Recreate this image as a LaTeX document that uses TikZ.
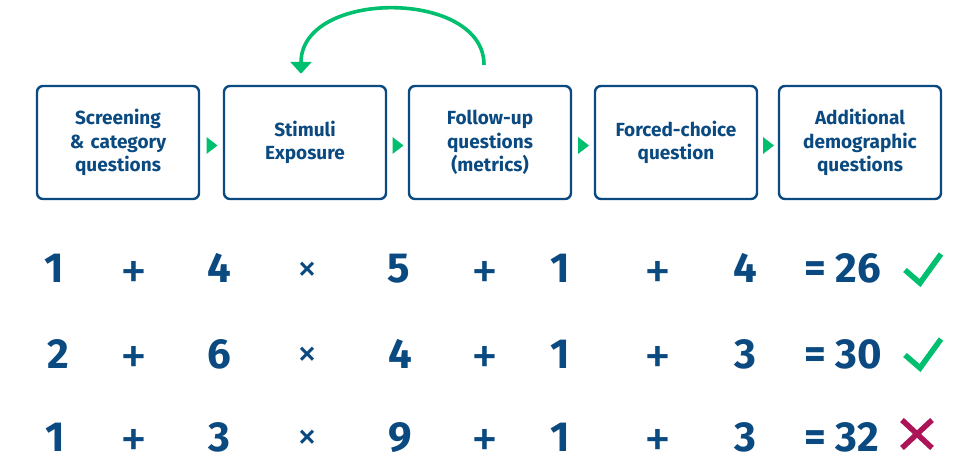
\documentclass[tikz,border=0pt]{standalone}
\usepackage{fontspec}
\setmainfont{Fira Sans}
\usepackage{tikz}
\usetikzlibrary{arrows.meta,calc}

\definecolor{smblue}{HTML}{0B4A80}
\definecolor{smgreen}{HTML}{00BF6F}
\definecolor{smred}{HTML}{AC1457}

\tikzset{
  stagebox/.style={draw=smblue, line width=2.4pt, rounded corners=6pt,
    minimum width=162pt, minimum height=113pt, text width=154pt, align=center,
    text=smblue, font=\fontsize{19}{23.5}\selectfont\bfseries},
  term/.style={text=smblue, font=\fontsize{42}{46}\selectfont\bfseries,
    text height=30pt, text depth=0pt, inner sep=0pt},
  oper/.style={text=smblue, font=\fontsize{40}{46}\selectfont,
    text height=26pt, text depth=0pt, inner sep=0pt},
  plus/.style={oper, font=\fontsize{54}{60}\selectfont, text height=42pt},
}

\begin{document}
\begin{tikzpicture}[x=1pt, y=-1pt]
        \useasboundingbox (0,0) rectangle (980,465);

        % Survey stages
        \node[stagebox] (screen) at (118, 142.5) {Screening\\\& category\\questions};
        \node[stagebox] (stimuli) at (305, 142.5) {Stimuli\\Exposure};
        \node[stagebox] (followup) at (490, 142.5) {Follow-up\\questions\\(metrics)};
        \node[stagebox] (forced) at (676, 142.5) {Forced-choice\\question};
        \node[stagebox] (demo) at (860, 142.5) {Additional\\demographic\\questions};

        % Small green heads between the stages
        \foreach \u/\v [count=\i] in {screen/stimuli, stimuli/followup, followup/forced, forced/demo} {
          \coordinate (gap\i) at ($(\u.east)!0.5!(\v.west) + (0,3)$);
          \fill[smgreen] ($(gap\i) + (-5,-8.5)$) -- ($(gap\i) + (6,0)$) -- ($(gap\i) + (-5,8.5)$) -- cycle;
        }

        % Loop back from follow-up to stimuli
        \coordinate (loop_start) at ($(followup.north) + (-6,-20)$);
        \coordinate (loop_end) at ($(stimuli.north) + (-4,-11)$);
        \draw[smgreen, line width=3.6pt, -{Triangle[width=21pt,length=12pt]}]
          (loop_start) .. controls (484,-11) and (301,-11) .. (loop_end);

        % Counts per stage
        \foreach \r/\y/\xa/\a/\b/\xc/\c/\d/\e/\s in
          {1/268/54/1/4/399/5/1/4/26, 2/353/58/2/6/400/4/1/3/30, 3/436/55/1/3/400/9/1/3/32} {
          \node[term] (a\r) at (\xa, \y) {\a};
          \node[plus] (p\r) at (134, \y) {+};
          \node[term] (b\r) at (219, \y) {\b};
          \node[oper] (m\r) at (307, \y) {×};
          \node[term] (c\r) at (\xc, \y) {\c};
          \node[plus] (q\r) at (485, \y) {+};
          \node[term] (d\r) at (560, \y) {\d};
          \node[plus] (o\r) at (658, \y) {+};
          \node[term] (e\r) at (745, \y) {\e};
          \node[term, anchor=west] (sum\r) at (804, \y) {= \s};
        }

        % Verdicts
        \draw[smgreen, line width=5.5pt] (905,270) -- (920,283) -- (941,254);
        \draw[smgreen, line width=5.5pt] (905,355) -- (920,368) -- (941,339);
        \draw[smred, line width=5.5pt] (902,420) -- (932,448);
        \draw[smred, line width=5.5pt] (932,420) -- (902,448);
      \end{tikzpicture}
\end{document}
